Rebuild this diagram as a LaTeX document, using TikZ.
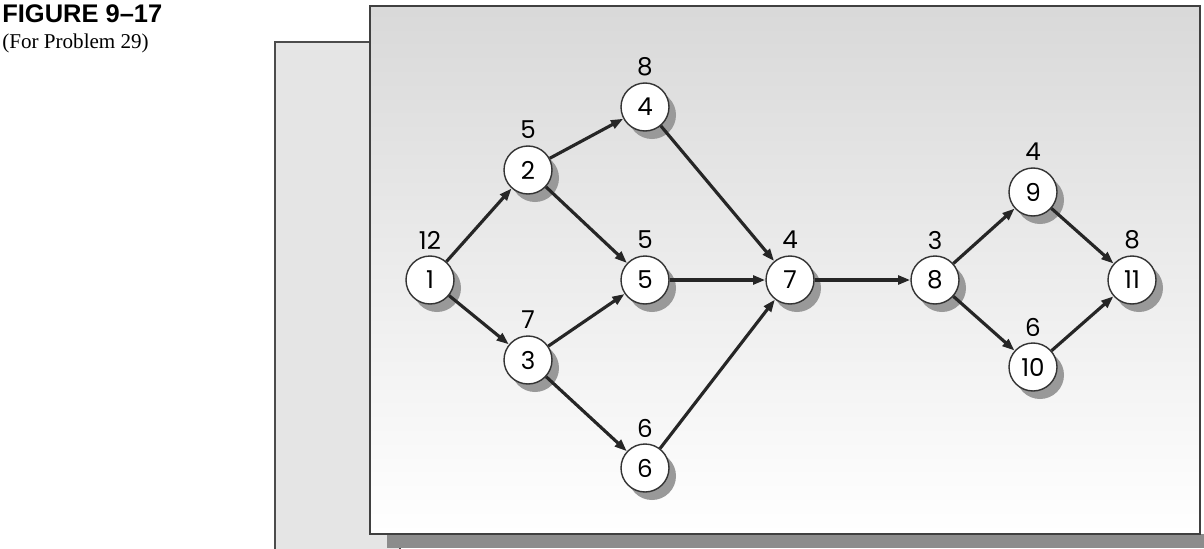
\documentclass[tikz,border=0pt]{standalone}
\usepackage{fontspec}
\setmainfont{Liberation Serif}
\newfontfamily\nodefont{Poppins}
\newfontfamily\capfont{Liberation Sans}
\usetikzlibrary{arrows.meta}
\begin{document}
\begin{tikzpicture}[x=0.02cm,y=-0.02cm,
  ev/.style={circle,draw=black!80,line width=0.8pt,fill=white,minimum size=48*0.02cm,inner sep=0pt,font=\nodefont\fontsize{14}{14}\selectfont},
  lab/.style={font=\nodefont\fontsize{14}{14}\selectfont},
  arr/.style={-{Triangle[length=7pt,width=5pt]},line width=1.8pt,black!85}]
\useasboundingbox (0,0) rectangle (1204,548);
\fill[white] (0,0) rectangle (1204,548);
\filldraw[fill=black!10,draw=black!70,line width=0.8pt] (275,560) -- (275,42) -- (400,42) -- (400,560);
\fill[black!45] (387,534) rectangle (1204,548);
\shade[top color=black!15,bottom color=white] (370,6) rectangle (1200,534);
\draw[black!75,line width=0.8pt] (370,6) rectangle (1200,534);
\node[anchor=north west,inner sep=0pt,font=\capfont\bfseries\fontsize{14.5}{15}\selectfont] (cap) at (2,4) {FIGURE 9–17};
\node[anchor=north west,inner sep=0pt,font=\fontsize{12}{13}\selectfont] (sub) at (2,34) {(For Problem 29)};
\foreach \n/\x/\y/\d in {1/430/280/12,2/528/170/5,3/528/360/7,4/645/107/8,5/645/280/5,6/645/468/6,7/790/280/4,8/935/280/3,9/1033/192/4,10/1033/367/6,11/1132/280/8}{
  \fill[black!40] (\x+7,\y+8) circle (24);
  \node[ev] (n\n) at (\x,\y) {\n};
  \node[lab] (l\n) at (\x,\y-40) {\d};
}
\foreach \a/\b in {1/2,1/3,2/4,2/5,3/5,3/6,4/7,5/7,6/7,7/8,8/9,8/10,9/11,10/11}
  \draw[arr] (n\a) -- (n\b);
\end{tikzpicture}
\end{document}
